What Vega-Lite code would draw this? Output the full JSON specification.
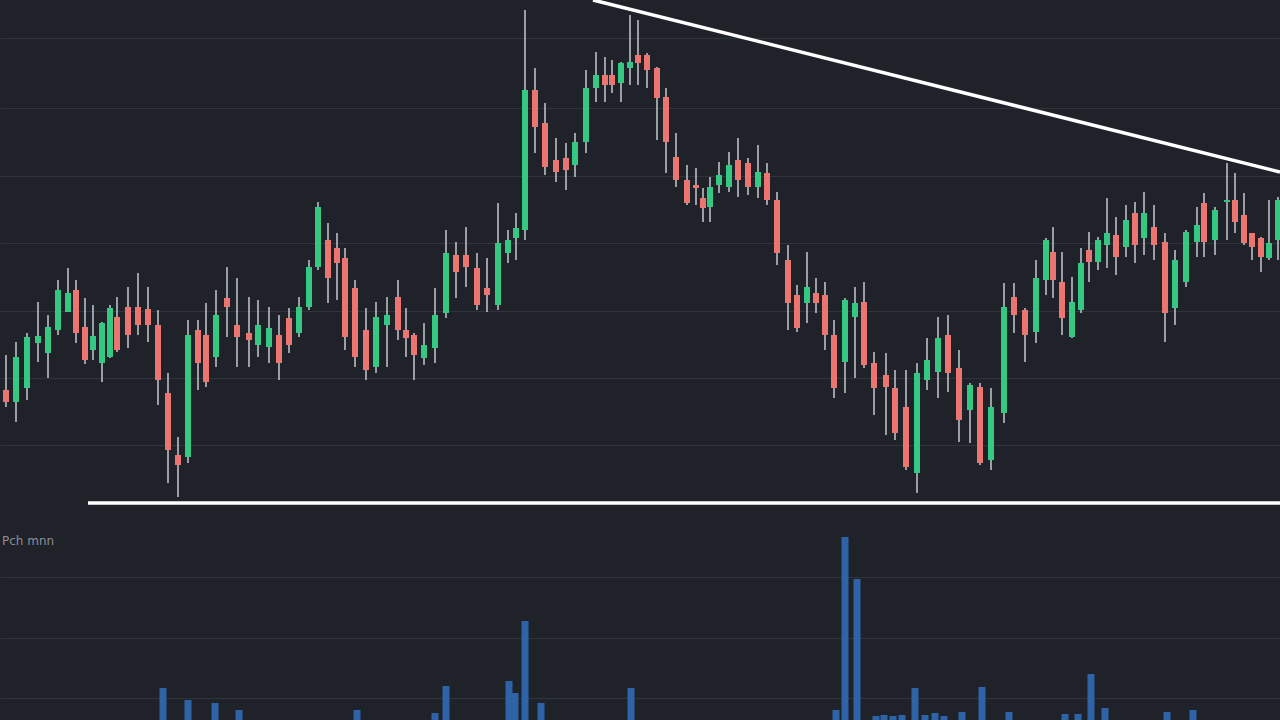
{
  "$schema": "https://vega.github.io/schema/vega-lite/v6.json",
  "width": 1280,
  "height": 720,
  "autosize": {"type": "fit", "contains": "padding"},
  "padding": 0,
  "background": "#1f2228",
  "config": {"view": {"stroke": null}},
  "datasets": {
    "candles": [
      {"t":6,"o":330,"c":318,"h":365,"l":313},
      {"t":16,"o":318,"c":363,"h":378,"l":298},
      {"t":27,"o":332,"c":383,"h":387,"l":320},
      {"t":38,"o":377,"c":384,"h":418,"l":358},
      {"t":48,"o":367,"c":393,"h":405,"l":342},
      {"t":58,"o":390,"c":430,"h":440,"l":385},
      {"t":68,"o":408,"c":427,"h":452,"l":408},
      {"t":76,"o":430,"c":387,"h":440,"l":377},
      {"t":85,"o":393,"c":360,"h":422,"l":356},
      {"t":93,"o":370,"c":384,"h":415,"l":360},
      {"t":102,"o":357,"c":397,"h":398,"l":338},
      {"t":110,"o":363,"c":412,"h":415,"l":362},
      {"t":117,"o":403,"c":370,"h":423,"l":368},
      {"t":128,"o":413,"c":385,"h":433,"l":372},
      {"t":138,"o":413,"c":395,"h":447,"l":385},
      {"t":148,"o":411,"c":395,"h":433,"l":378},
      {"t":158,"o":395,"c":340,"h":410,"l":315},
      {"t":168,"o":327,"c":270,"h":347,"l":237},
      {"t":178,"o":265,"c":255,"h":283,"l":223},
      {"t":188,"o":263,"c":385,"h":400,"l":257},
      {"t":198,"o":390,"c":357,"h":400,"l":330},
      {"t":206,"o":385,"c":338,"h":417,"l":333},
      {"t":216,"o":363,"c":405,"h":430,"l":353},
      {"t":227,"o":422,"c":413,"h":453,"l":383},
      {"t":237,"o":395,"c":383,"h":442,"l":353},
      {"t":249,"o":387,"c":380,"h":423,"l":353},
      {"t":258,"o":375,"c":395,"h":420,"l":363},
      {"t":269,"o":373,"c":392,"h":413,"l":357},
      {"t":279,"o":385,"c":357,"h":405,"l":340},
      {"t":289,"o":402,"c":375,"h":412,"l":367},
      {"t":299,"o":387,"c":413,"h":423,"l":383},
      {"t":309,"o":413,"c":453,"h":460,"l":410},
      {"t":318,"o":453,"c":513,"h":518,"l":450},
      {"t":328,"o":480,"c":442,"h":497,"l":417},
      {"t":337,"o":472,"c":457,"h":487,"l":420},
      {"t":345,"o":462,"c":383,"h":472,"l":370},
      {"t":355,"o":432,"c":363,"h":440,"l":353},
      {"t":366,"o":390,"c":350,"h":412,"l":340},
      {"t":376,"o":353,"c":403,"h":418,"l":347},
      {"t":387,"o":395,"c":405,"h":423,"l":353},
      {"t":398,"o":423,"c":390,"h":440,"l":380},
      {"t":406,"o":390,"c":382,"h":412,"l":363},
      {"t":414,"o":385,"c":365,"h":387,"l":340},
      {"t":424,"o":362,"c":375,"h":397,"l":355},
      {"t":435,"o":372,"c":405,"h":432,"l":357},
      {"t":446,"o":407,"c":467,"h":490,"l":402},
      {"t":456,"o":465,"c":448,"h":478,"l":422},
      {"t":466,"o":465,"c":453,"h":493,"l":433},
      {"t":477,"o":452,"c":415,"h":467,"l":410},
      {"t":487,"o":432,"c":425,"h":462,"l":408},
      {"t":498,"o":415,"c":477,"h":517,"l":410},
      {"t":508,"o":467,"c":480,"h":490,"l":457},
      {"t":516,"o":482,"c":492,"h":507,"l":460},
      {"t":525,"o":490,"c":630,"h":710,"l":480},
      {"t":535,"o":630,"c":593,"h":652,"l":567},
      {"t":545,"o":597,"c":553,"h":617,"l":545},
      {"t":556,"o":560,"c":548,"h":582,"l":538},
      {"t":566,"o":562,"c":550,"h":577,"l":530},
      {"t":575,"o":555,"c":578,"h":587,"l":543},
      {"t":586,"o":578,"c":632,"h":650,"l":567},
      {"t":596,"o":632,"c":645,"h":668,"l":618},
      {"t":605,"o":645,"c":635,"h":663,"l":618},
      {"t":612,"o":645,"c":635,"h":660,"l":627},
      {"t":621,"o":637,"c":657,"h":658,"l":618},
      {"t":630,"o":652,"c":658,"h":705,"l":635},
      {"t":638,"o":665,"c":657,"h":700,"l":635},
      {"t":647,"o":665,"c":650,"h":667,"l":632},
      {"t":657,"o":652,"c":622,"h":653,"l":580},
      {"t":666,"o":623,"c":578,"h":632,"l":547},
      {"t":676,"o":563,"c":540,"h":587,"l":533},
      {"t":687,"o":540,"c":517,"h":555,"l":515},
      {"t":696,"o":535,"c":532,"h":552,"l":515},
      {"t":703,"o":522,"c":512,"h":532,"l":498},
      {"t":710,"o":513,"c":533,"h":543,"l":498},
      {"t":719,"o":535,"c":545,"h":558,"l":527},
      {"t":729,"o":533,"c":555,"h":568,"l":528},
      {"t":738,"o":560,"c":540,"h":582,"l":523},
      {"t":748,"o":557,"c":533,"h":562,"l":525},
      {"t":758,"o":533,"c":548,"h":575,"l":522},
      {"t":767,"o":547,"c":520,"h":557,"l":515},
      {"t":777,"o":520,"c":467,"h":528,"l":455},
      {"t":788,"o":460,"c":417,"h":475,"l":390},
      {"t":797,"o":425,"c":392,"h":435,"l":388},
      {"t":807,"o":417,"c":433,"h":468,"l":397},
      {"t":816,"o":427,"c":417,"h":442,"l":407},
      {"t":825,"o":425,"c":385,"h":438,"l":370},
      {"t":834,"o":385,"c":332,"h":400,"l":322},
      {"t":845,"o":358,"c":420,"h":422,"l":327},
      {"t":855,"o":403,"c":417,"h":433,"l":342},
      {"t":864,"o":418,"c":355,"h":438,"l":352},
      {"t":874,"o":357,"c":332,"h":368,"l":305},
      {"t":886,"o":345,"c":333,"h":367,"l":285},
      {"t":895,"o":332,"c":287,"h":350,"l":280},
      {"t":906,"o":313,"c":253,"h":350,"l":250},
      {"t":917,"o":247,"c":347,"h":357,"l":227},
      {"t":927,"o":340,"c":360,"h":382,"l":330},
      {"t":938,"o":348,"c":382,"h":403,"l":322},
      {"t":948,"o":385,"c":347,"h":405,"l":328},
      {"t":959,"o":352,"c":300,"h":370,"l":278},
      {"t":970,"o":310,"c":335,"h":337,"l":277},
      {"t":980,"o":333,"c":257,"h":337,"l":255},
      {"t":991,"o":260,"c":313,"h":332,"l":250},
      {"t":1004,"o":307,"c":413,"h":437,"l":297},
      {"t":1014,"o":423,"c":405,"h":437,"l":387},
      {"t":1025,"o":410,"c":385,"h":412,"l":358},
      {"t":1036,"o":388,"c":442,"h":460,"l":377},
      {"t":1046,"o":440,"c":480,"h":482,"l":425},
      {"t":1053,"o":468,"c":440,"h":493,"l":422},
      {"t":1062,"o":438,"c":402,"h":468,"l":385},
      {"t":1072,"o":383,"c":418,"h":443,"l":382},
      {"t":1081,"o":410,"c":457,"h":472,"l":407},
      {"t":1089,"o":470,"c":458,"h":488,"l":438},
      {"t":1098,"o":458,"c":480,"h":483,"l":450},
      {"t":1107,"o":475,"c":487,"h":522,"l":452},
      {"t":1116,"o":485,"c":463,"h":503,"l":445},
      {"t":1126,"o":473,"c":500,"h":515,"l":463},
      {"t":1135,"o":507,"c":475,"h":518,"l":457},
      {"t":1144,"o":482,"c":507,"h":528,"l":465},
      {"t":1154,"o":493,"c":475,"h":515,"l":460},
      {"t":1165,"o":478,"c":407,"h":487,"l":378},
      {"t":1175,"o":412,"c":460,"h":470,"l":395},
      {"t":1186,"o":438,"c":488,"h":490,"l":433},
      {"t":1197,"o":478,"c":495,"h":513,"l":463},
      {"t":1204,"o":517,"c":478,"h":527,"l":463},
      {"t":1215,"o":480,"c":510,"h":513,"l":465},
      {"t":1227,"o":518,"c":520,"h":557,"l":480},
      {"t":1235,"o":520,"c":498,"h":547,"l":487},
      {"t":1244,"o":505,"c":477,"h":527,"l":475},
      {"t":1252,"o":487,"c":473,"h":487,"l":460},
      {"t":1261,"o":482,"c":463,"h":483,"l":448},
      {"t":1269,"o":462,"c":477,"h":520,"l":460},
      {"t":1278,"o":480,"c":520,"h":523,"l":460}
    ],
    "volume": [
      {"t":163,"v":32},{"t":188,"v":20},{"t":215,"v":17},{"t":239,"v":10},
      {"t":357,"v":10},{"t":435,"v":7},{"t":446,"v":34},{"t":509,"v":39},
      {"t":515,"v":27},{"t":525,"v":99},{"t":541,"v":17},{"t":631,"v":32},
      {"t":836,"v":10},{"t":845,"v":183},{"t":857,"v":141},{"t":876,"v":4},
      {"t":884,"v":5},{"t":893,"v":4},{"t":902,"v":5},{"t":915,"v":32},
      {"t":925,"v":5},{"t":935,"v":7},{"t":944,"v":4},{"t":962,"v":8},
      {"t":982,"v":33},{"t":1009,"v":8},{"t":1065,"v":6},{"t":1078,"v":6},
      {"t":1091,"v":46},{"t":1105,"v":12},{"t":1167,"v":8},{"t":1193,"v":10}
    ],
    "trend": [
      {"line":"resistance","t":593,"p":720},
      {"line":"resistance","t":1280,"p":548},
      {"line":"support","t":88,"p":217},
      {"line":"support","t":1280,"p":217}
    ],
    "labels": [
      {"t":2,"p":179,"label":"Pch mnn"}
    ]
  },
  "layer": [
    {
      "data": {"name": "volume"},
      "mark": {"type": "bar", "orient": "vertical", "size": 7, "color": "#2f63a8", "clip": true},
      "encoding": {
        "x": {"field": "t", "type": "quantitative", "scale": {"domain": [0, 1280], "nice": false, "zero": false, "padding": 0}, "axis": null},
        "y": {"field": "v", "type": "quantitative", "scale": {"domain": [0, 720], "nice": false, "padding": 0},
          "axis": {"values": [22, 82, 143, 275, 342, 409, 477, 544, 612, 682], "grid": true, "labels": false, "ticks": false, "domain": false, "title": null, "gridColor": "#30343b", "gridWidth": 1.2}}
      }
    },
    {
      "data": {"name": "candles"},
      "mark": {"type": "rule", "color": "#b8bcc3", "strokeWidth": 1.8, "opacity": 0.9, "clip": true},
      "encoding": {
        "x": {"field": "t", "type": "quantitative"},
        "y": {"field": "l", "type": "quantitative"},
        "y2": {"field": "h"}
      }
    },
    {
      "data": {"name": "candles"},
      "mark": {"type": "bar", "orient": "vertical", "size": 6, "clip": true},
      "encoding": {
        "x": {"field": "t", "type": "quantitative"},
        "y": {"field": "o", "type": "quantitative"},
        "y2": {"field": "c"},
        "color": {"condition": {"test": "datum.c >= datum.o", "value": "#35c883"}, "value": "#ea7571"}
      }
    },
    {
      "data": {"name": "trend"},
      "mark": {"type": "line", "color": "#ffffff", "strokeWidth": 3.5, "clip": true},
      "encoding": {
        "x": {"field": "t", "type": "quantitative"},
        "y": {"field": "p", "type": "quantitative"},
        "detail": {"field": "line"}
      }
    },
    {
      "data": {"name": "labels"},
      "mark": {"type": "text", "align": "left", "baseline": "middle", "fontSize": 12, "font": "DejaVu Sans", "color": "#8b9098", "clip": true},
      "encoding": {
        "x": {"field": "t", "type": "quantitative"},
        "y": {"field": "p", "type": "quantitative"},
        "text": {"field": "label"}
      }
    }
  ]
}
